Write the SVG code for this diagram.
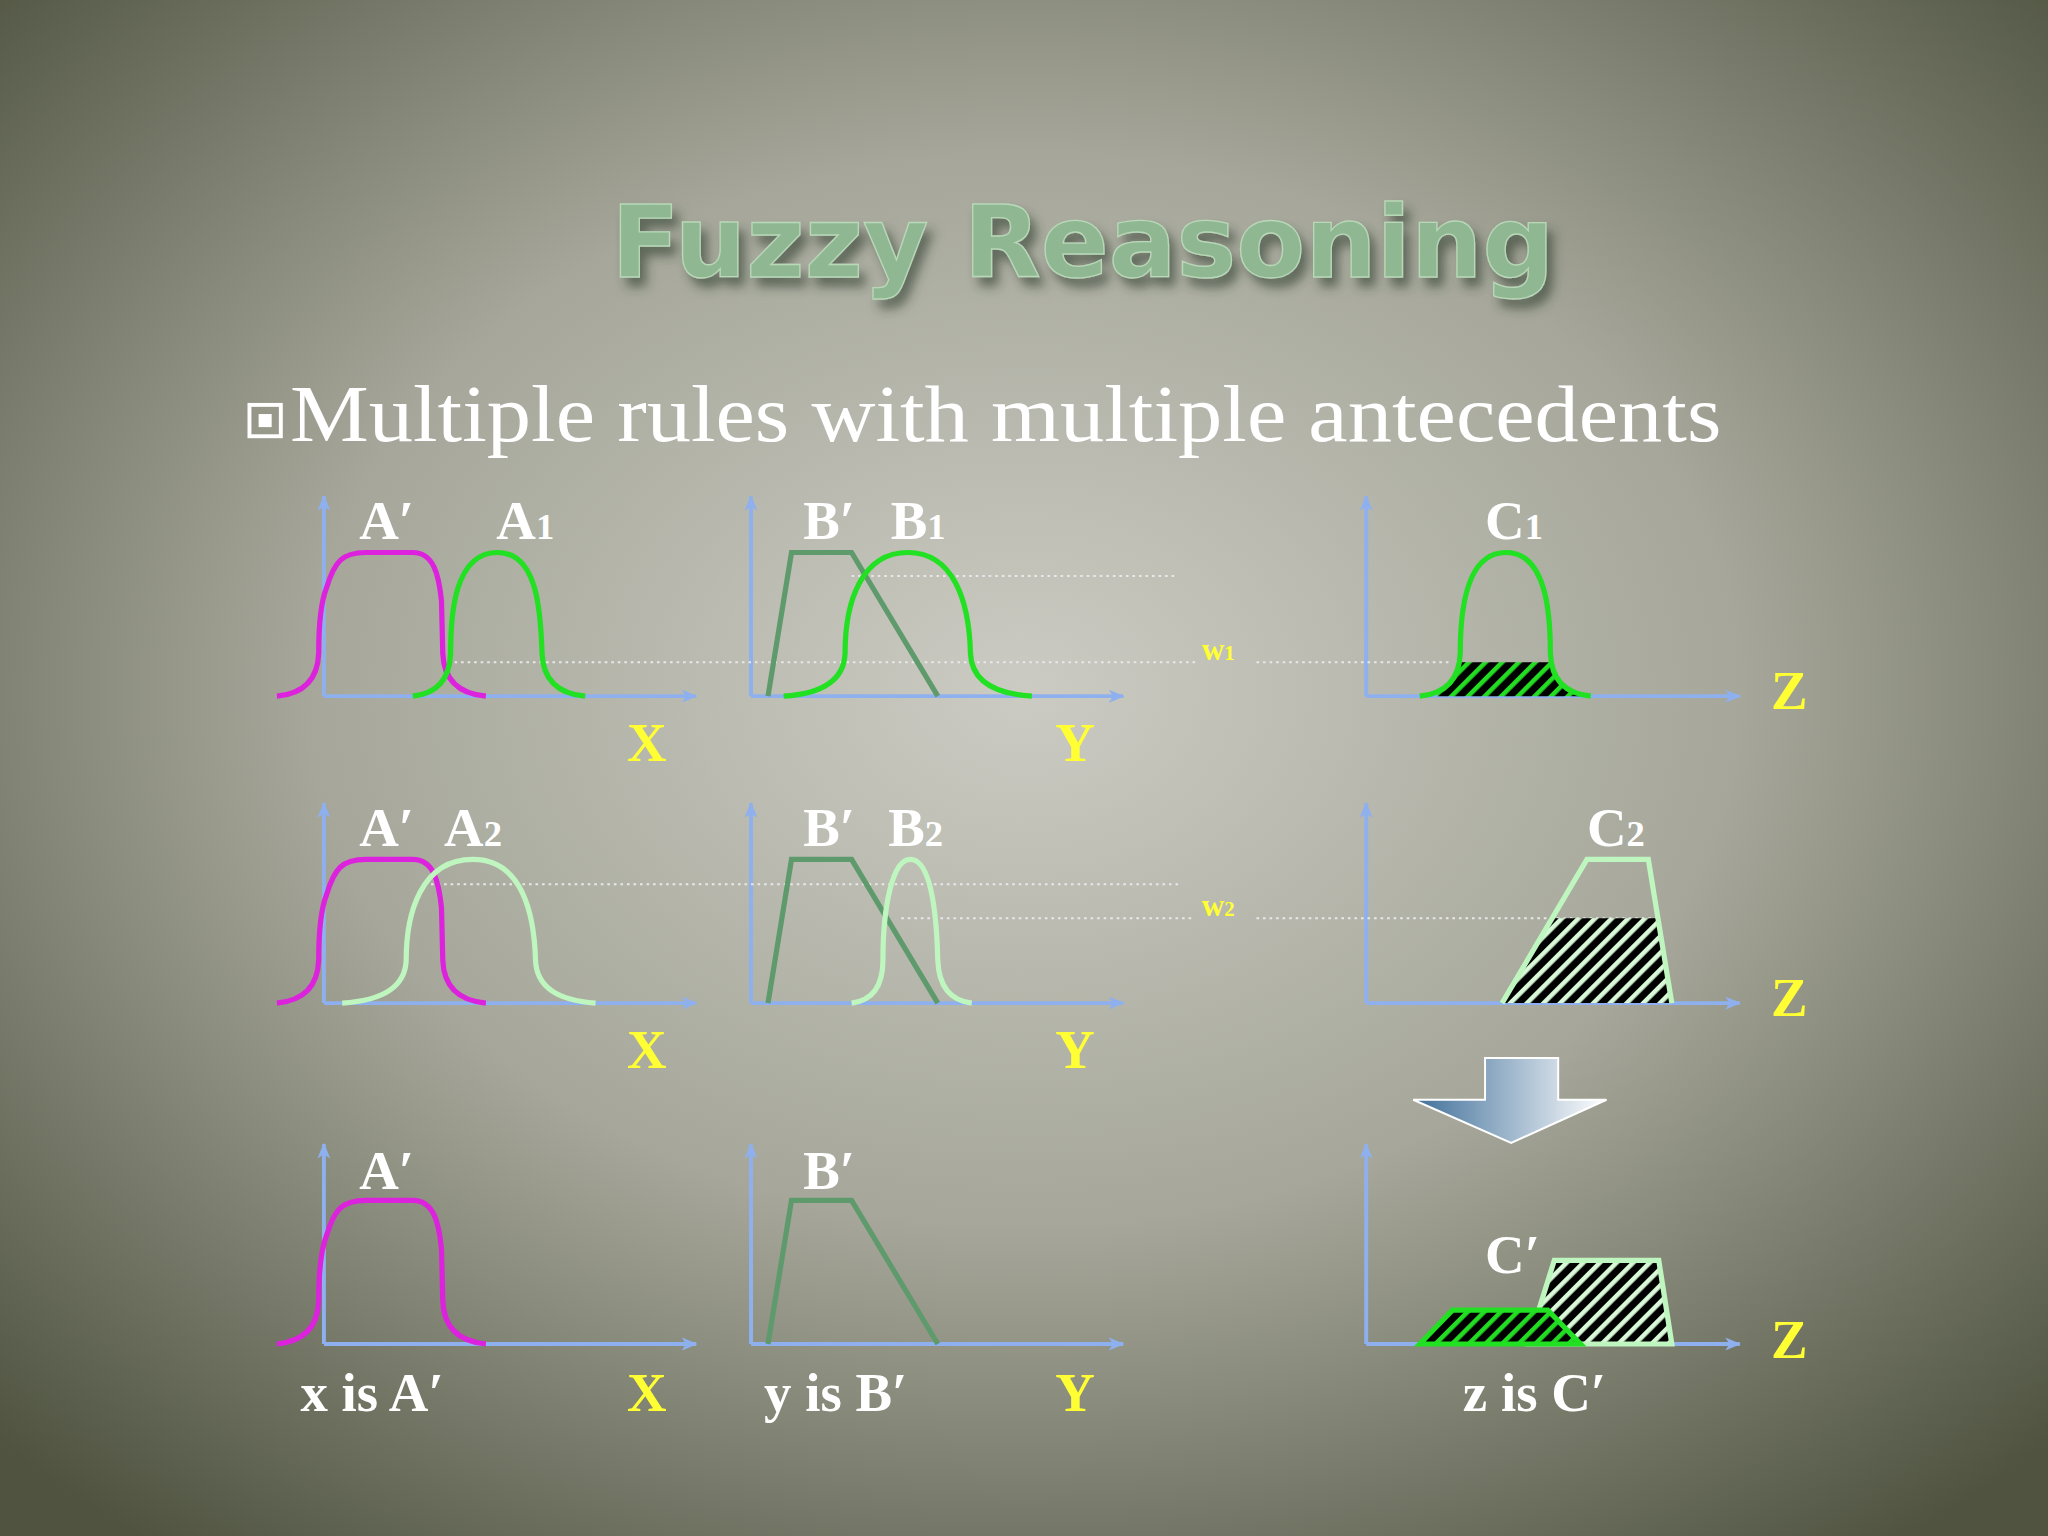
<svg xmlns="http://www.w3.org/2000/svg" width="2048" height="1536" viewBox="0 0 2048 1536">
<defs>
<radialGradient id="bg" cx="50%" cy="45%" r="70%">
<stop offset="0" stop-color="#cbcbc3"/><stop offset="0.5" stop-color="#a6a79a"/><stop offset="1" stop-color="#4f5340"/>
</radialGradient>
<linearGradient id="arr" x1="0" y1="0" x2="1" y2="0">
<stop offset="0" stop-color="#3f6f99"/><stop offset="1" stop-color="#ffffff"/>
</linearGradient>
<filter id="sh" x="-10%" y="-30%" width="120%" height="170%"><feDropShadow dx="5" dy="7" stdDeviation="4" flood-color="#2e3a2e" flood-opacity="0.6"/></filter>
<marker id="ah" markerWidth="12" markerHeight="10" refX="11" refY="5" orient="auto" markerUnits="userSpaceOnUse"><path d="M0,0 L12,5 L0,10 L3,5 Z" fill="#8fb0ee"/></marker>
<pattern id="h1" width="9" height="9" patternUnits="userSpaceOnUse" patternTransform="rotate(45)"><rect width="9" height="9" fill="#000"/><rect width="3.5" height="9" fill="#22dd22"/></pattern>
<pattern id="h2" width="9" height="9" patternUnits="userSpaceOnUse" patternTransform="rotate(45)"><rect width="9" height="9" fill="#000"/><rect width="3.5" height="9" fill="#d8f8d8"/></pattern>
<path id="Ap" d="M212,533 Q243,530 244,500 C244,480 246,460 250,450 C256,430 262,423 280,423 L316,423 C332,423 336,440 338,460 L339,500 Q340,530 372,533"/>
<path id="Bp" d="M588,533 L606,423 L652,423 L718,533"/>
</defs>
<style>
.ax{stroke:#8fb0ee;stroke-width:3;fill:none;marker-end:url(#ah)}
.mag{stroke:#dd22dd;stroke-width:4;fill:none}
.grn{stroke:#22e022;stroke-width:4;fill:none}
.lgr{stroke:#bff5bf;stroke-width:4;fill:none}
.dg{stroke:#5f9a6c;stroke-width:4;fill:none}
.dot{stroke:#e8e8e8;stroke-width:1.5;stroke-dasharray:2 3;fill:none}
.lb{font-family:"Liberation Serif",serif;font-weight:bold;font-size:42px;fill:#ffffff}
.yl{font-family:"Liberation Serif",serif;font-weight:bold;font-size:42px;fill:#ffff33}
.w{font-family:"Liberation Serif",serif;font-weight:bold;font-size:24px;fill:#ffff33}
.s{font-size:28px}
</style>
<rect width="2048" height="1536" fill="url(#bg)"/>
<g transform="scale(1.30612)">
<g id="title">
<text x="468" y="212" font-family="DejaVu Sans,sans-serif" font-weight="bold" font-size="76" fill="#8fb892" stroke="#b8d8b8" stroke-width="1" filter="url(#sh)" textLength="722" lengthAdjust="spacingAndGlyphs">Fuzzy Reasoning</text>
</g>
<g id="bullet">
<rect x="191" y="310" width="24" height="24" fill="none" stroke="#fff" stroke-width="3"/>
<rect x="198" y="317" width="10" height="10" fill="#fff"/>
<text x="222" y="338" font-family="Liberation Serif,serif" font-size="62" fill="#fff" textLength="1096" lengthAdjust="spacingAndGlyphs">Multiple rules with multiple antecedents</text>
</g>
<g id="connectors">
<path class="ax" d="M248,533 V380"/><path class="ax" d="M248,533 H533"/>
<path class="ax" d="M575,533 V380"/><path class="ax" d="M575,533 H860"/>
<path class="ax" d="M1046,533 V380"/><path class="ax" d="M1046,533 H1332"/>
<path class="ax" d="M248,768 V615"/><path class="ax" d="M248,768 H533"/>
<path class="ax" d="M575,768 V615"/><path class="ax" d="M575,768 H860"/>
<path class="ax" d="M1046,768 V615"/><path class="ax" d="M1046,768 H1332"/>
<path class="ax" d="M248,1029 V876"/><path class="ax" d="M248,1029 H533"/>
<path class="ax" d="M575,1029 V876"/><path class="ax" d="M575,1029 H860"/>
<path class="ax" d="M1046,1029 V876"/><path class="ax" d="M1046,1029 H1332"/>
<path class="dot" d="M652,441 H902"/><path class="dot" d="M338,507 H915 M962,507 H1110"/>
<path class="dot" d="M330,677 H902"/><path class="dot" d="M690,703 H915 M962,703 H1270"/>
</g>
<g id="row1">
<use href="#Ap" class="mag"/>
<path class="grn" d="M316,533 Q344,530 345,500 C345,470 348,423 381,423 C412,423 414,470 415,500 Q416,530 448,533"/>
<use href="#Bp" class="dg"/>
<path class="grn" d="M600,533 Q646,530 647,500 C647,460 660,423 695,423 C730,423 742,460 743,500 Q744,530 790,533"/>
<polygon points="1100,533 1112,520 1117,507 1188,507 1193,520 1210,533" fill="url(#h1)"/>
<path class="grn" d="M1087,533 Q1117,530 1118,500 C1118,470 1122,423 1153,423 C1184,423 1187,470 1187,500 Q1188,530 1218,533"/>
<text class="lb" x="275" y="413">A′</text><text class="lb" x="380" y="413">A<tspan class="s">1</tspan></text>
<text class="lb" x="615" y="413">B′</text><text class="lb" x="682" y="413">B<tspan class="s">1</tspan></text>
<text class="lb" x="1137" y="413">C<tspan class="s">1</tspan></text>
<text class="w" x="920" y="505">w<tspan font-size="16">1</tspan></text>
<text class="yl" x="480" y="583">X</text><text class="yl" x="808" y="583">Y</text><text class="yl" x="1356" y="543">Z</text>
</g>
<g id="row2">
<use href="#Ap" class="mag" transform="translate(0,235)"/>
<path class="lgr" d="M262,768 Q310,765 311,735 C311,700 322,658 362,658 C400,658 409,700 410,735 Q411,765 456,768"/>
<use href="#Bp" class="dg" transform="translate(0,235)"/>
<path class="lgr" d="M652,768 Q676,765 676,735 C676,695 683,658 697,658 C712,658 717,695 718,735 Q719,765 744,768"/>
<polygon points="1150,768 1187,703 1270,703 1280,768" fill="url(#h2)"/>
<path class="lgr" d="M1150,768 L1215,658 L1262,658 L1280,768"/>
<text class="lb" x="275" y="648">A′</text><text class="lb" x="340" y="648">A<tspan class="s">2</tspan></text>
<text class="lb" x="615" y="648">B′</text><text class="lb" x="680" y="648">B<tspan class="s">2</tspan></text>
<text class="lb" x="1215" y="648">C<tspan class="s">2</tspan></text>
<text class="w" x="920" y="701">w<tspan font-size="16">2</tspan></text>
<text class="yl" x="480" y="818">X</text><text class="yl" x="808" y="818">Y</text><text class="yl" x="1356" y="778">Z</text>
</g>
<g id="arrow">
<path d="M1137,810 H1193 V842 H1230 L1157,875 L1082,842 H1137 Z" fill="url(#arr)" stroke="#ffffff" stroke-width="1.5"/>
</g>
<g id="row3">
<use href="#Ap" class="mag" transform="translate(0,496)"/>
<use href="#Bp" class="dg" transform="translate(0,496)"/>
<polygon points="1170,1029 1190,965 1270,965 1280,1029" style="fill:url(#h2);stroke:#bff5bf;stroke-width:4"/>
<polygon points="1087,1029 1112,1003 1185,1003 1210,1029" style="fill:url(#h1);stroke:#22e022;stroke-width:4"/>
<text class="lb" x="1137" y="975">C′</text>
<text class="lb" x="275" y="910">A′</text><text class="lb" x="615" y="910">B′</text>
<text class="lb" x="230" y="1080">x is A′</text><text class="lb" x="585" y="1080">y is B′</text><text class="lb" x="1120" y="1080">z is C′</text>
<text class="yl" x="480" y="1080">X</text><text class="yl" x="808" y="1080">Y</text><text class="yl" x="1356" y="1040">Z</text>
</g>
</g>
</svg>
